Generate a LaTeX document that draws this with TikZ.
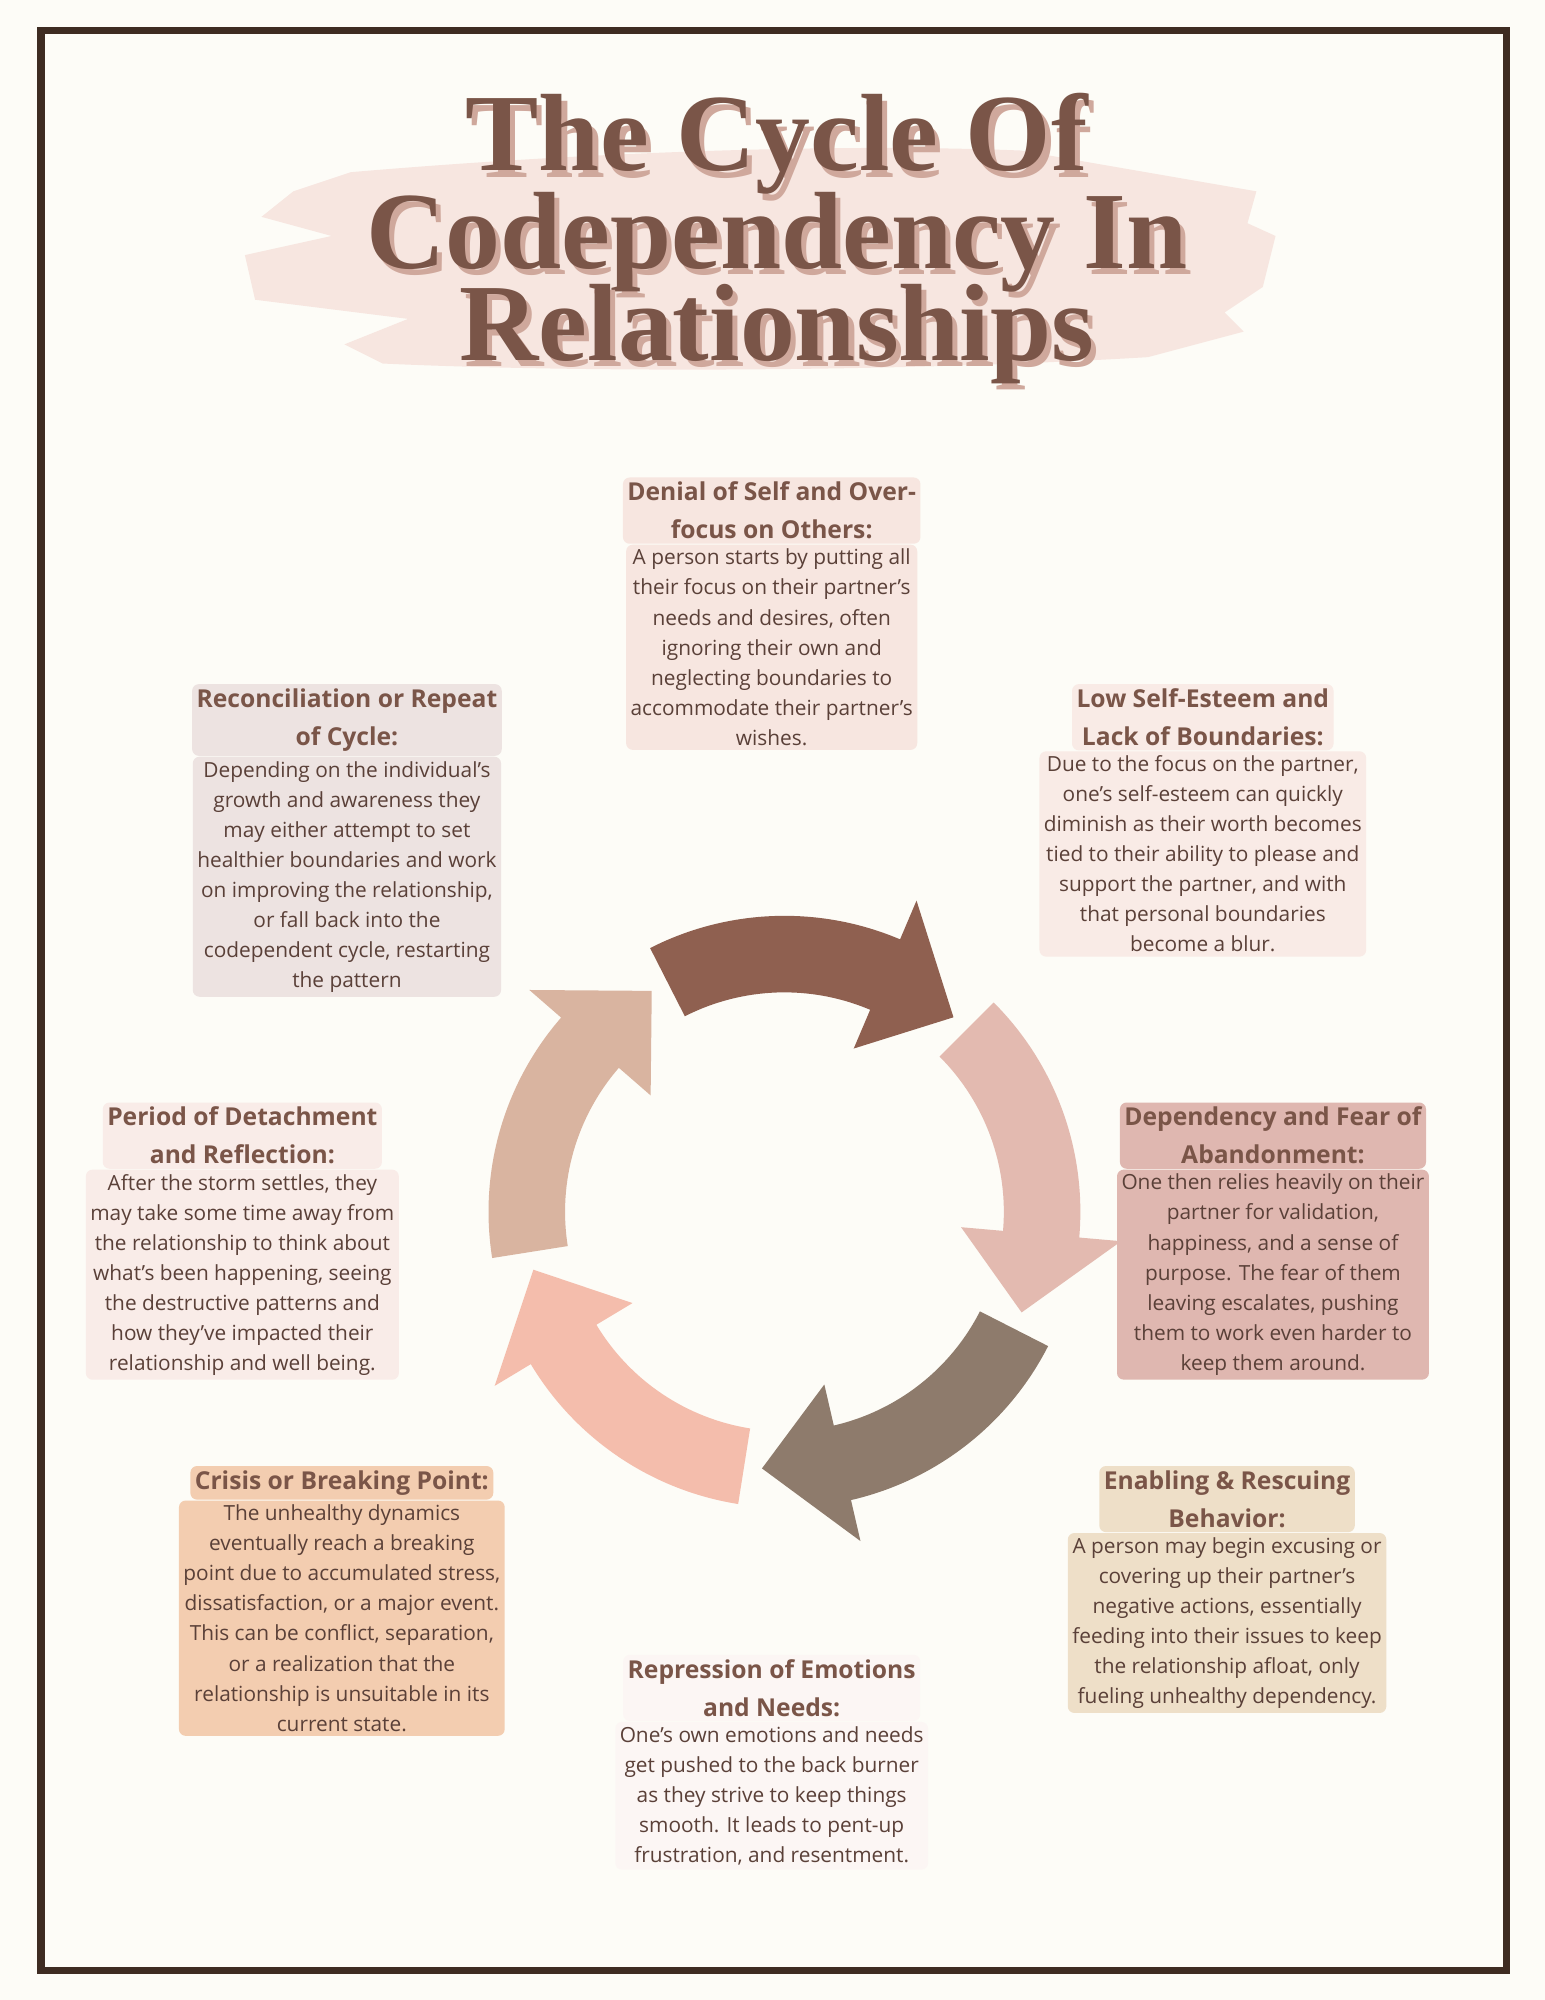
\documentclass[tikz,border=0pt]{standalone}
\usepackage{fontspec}
\setmainfont{Open Sans}
\newfontfamily\ttlfont{Liberation Serif}
\definecolor{bg}{HTML}{FDFCF7}
\definecolor{frame}{HTML}{3E2C22}
\definecolor{ttl}{HTML}{7A5548}
\definecolor{ttlsh}{HTML}{CFA89C}
\definecolor{brush}{HTML}{F7E6E0}
\definecolor{hdc}{HTML}{7A5548}
\definecolor{bdc}{HTML}{5A4038}
\definecolor{aA}{HTML}{8F6050}
\definecolor{aB}{HTML}{E3BAB0}
\definecolor{aC}{HTML}{8E7B6C}
\definecolor{aD}{HTML}{F4BDAC}
\definecolor{aE}{HTML}{D9B4A0}
\definecolor{fCr}{HTML}{F3CDB0}
\definecolor{fEn}{HTML}{EEDFC8}
\definecolor{fRe}{HTML}{EDE3E1}
\definecolor{fDe}{HTML}{DFB7B0}
\begin{document}
\begin{tikzpicture}[x=0.02cm,y=-0.02cm,
  hd/.style={align=center,inner sep=2pt,rounded corners=3pt,anchor=north,text=hdc,font=\fontsize{11}{17}\selectfont\bfseries},
  bd/.style={align=center,inner sep=2pt,rounded corners=3pt,anchor=north,text=bdc,font=\fontsize{9.3}{13.4}\selectfont},
  ttlt/.style={font=\ttlfont\fontsize{49}{49}\selectfont\bfseries}]
\useasboundingbox (0,0) rectangle (1211,1568);
\fill[bg] (0,0) rectangle (1211,1568);
\draw[frame,line width=3.4pt] (32,24) rectangle (1181,1545);
\fill[brush] (275,135) .. controls (450,120) and (650,112) .. (800,118) -- (985,150) -- (978,175) -- (1000,185) -- (990,225) -- (960,245) -- (975,260) -- (900,280) .. controls (700,292) and (450,292) .. (300,285) -- (270,270) -- (320,250) -- (200,235) -- (192,200) -- (260,185) -- (205,170) -- (230,150) -- cycle;
\node[ttlt,text=ttlsh] at (613,118) {The Cycle Of};
\node[ttlt,text=ttl] (t1) at (609,113) {The Cycle Of};
\node[ttlt,text=ttlsh] at (613,195) {Codependency In};
\node[ttlt,text=ttl] (t2) at (609,190) {Codependency In};
\node[ttlt,text=ttlsh] at (613,267) {Relationships};
\node[ttlt,text=ttl] (t3) at (609,262) {Relationships};
\foreach \k/\c in {0/aA,1/aB,2/aC,3/aD,4/aE}{
  \pgfmathsetmacro\Aa{117-72*\k}
  \pgfmathsetmacro\Ab{\Aa-50}
  \pgfmathsetmacro\At{\Aa-68}
  \fill[\c,shift={(615,950)}] (-\Aa:232) arc[start angle=-\Aa,end angle=-\Ab,radius=232] -- (-\Ab:265) -- (-\At:202) -- (-\Ab:139) -- (-\Ab:172) arc[start angle=-\Ab,end angle=-\Aa,radius=172] -- cycle;
}
\node[hd,fill=brush] (h1) at (605,374) {Denial of Self and Over-\\focus on Others:};
\node[bd,fill=brush] (b1) at (h1.south) {A person starts by putting all\\ their focus on their partner’s\\ needs and desires, often\\ ignoring their own and\\ neglecting boundaries to\\ accommodate their partner’s\\ wishes.};
\node[hd,fill=brush!80] (h2) at (943,536) {Low Self-Esteem and\\Lack of Boundaries:};
\node[bd,fill=brush!80] (b2) at (h2.south) {Due to the focus on the partner,\\ one’s self-esteem can quickly\\ diminish as their worth becomes\\ tied to their ability to please and\\ support the partner, and with\\ that personal boundaries\\ become a blur.};
\node[hd,fill=fDe] (h3) at (998,864) {Dependency and Fear of\\Abandonment:};
\node[bd,fill=fDe] (b3) at (h3.south) {One then relies heavily on their\\ partner for validation,\\ happiness, and a sense of\\ purpose. The fear of them\\ leaving escalates, pushing\\ them to work even harder to\\ keep them around.};
\node[hd,fill=fEn] (h4) at (962,1149) {Enabling \& Rescuing\\Behavior:};
\node[bd,fill=fEn] (b4) at (h4.south) {A person may begin excusing or\\ covering up their partner’s\\ negative actions, essentially\\ feeding into their issues to keep\\ the relationship afloat, only\\ fueling unhealthy dependency.};
\node[hd,fill=brush!35] (h5) at (605,1297) {Repression of Emotions\\and Needs:};
\node[bd,fill=brush!35] (b5) at (h5.south) {One’s own emotions and needs\\ get pushed to the back burner\\ as they strive to keep things\\ smooth. It leads to pent-up\\ frustration, and resentment.};
\node[hd,fill=fCr] (h6) at (268,1149) {Crisis or Breaking Point:};
\node[bd,fill=fCr] (b6) at (h6.south) {The unhealthy dynamics\\ eventually reach a breaking\\ point due to accumulated stress,\\ dissatisfaction, or a major event.\\ This can be conflict, separation,\\ or a realization that the\\ relationship is unsuitable in its\\ current state.};
\node[hd,fill=brush!75] (h7) at (190,864) {Period of Detachment\\and Reflection:};
\node[bd,fill=brush!75] (b7) at (h7.south) {After the storm settles, they\\ may take some time away from\\ the relationship to think about\\ what’s been happening, seeing\\ the destructive patterns and\\ how they’ve impacted their\\ relationship and well being.};
\node[hd,fill=fRe] (h8) at (272,536) {Reconciliation or Repeat\\of Cycle:};
\node[bd,fill=fRe] (b8) at (h8.south) {Depending on the individual’s\\ growth and awareness they\\ may either attempt to set\\ healthier boundaries and work\\ on improving the relationship,\\ or fall back into the\\ codependent cycle, restarting\\ the pattern};
\end{tikzpicture}
\end{document}
